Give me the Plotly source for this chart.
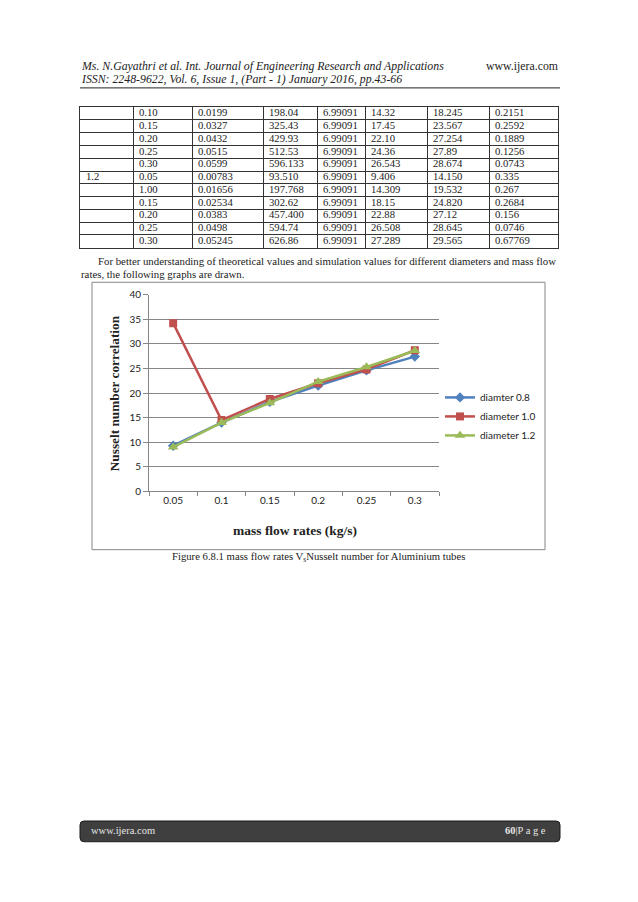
import plotly.graph_objects as go

W, H = 638, 902
def px(x):
    return x / W
def py(y):
    return 1 - y / H

# ---------------- data ----------------
categories = ["0.05", "0.1", "0.15", "0.2", "0.25", "0.3"]
d08 = [9.3, 14.0, 18.2, 21.5, 24.6, 27.4]
d10 = [34.2, 14.5, 18.8, 22.0, 24.8, 28.7]
d12 = [9.0, 14.0, 18.0, 22.3, 25.3, 28.6]
series_names = ["diamter 0.8", "diameter 1.0", "diameter 1.2"]
y_ticks = [0, 5, 10, 15, 20, 25, 30, 35, 40]

col_dia = ["", "", "", "", "", "1.2", "", "", "", "", ""]
col_m = ["0.10", "0.15", "0.20", "0.25", "0.30", "0.05", "1.00", "0.15", "0.20", "0.25", "0.30"]
col_v = ["0.0199", "0.0327", "0.0432", "0.0515", "0.0599", "0.00783", "0.01656", "0.02534", "0.0383", "0.0498", "0.05245"]
col_re = ["198.04", "325.43", "429.93", "512.53", "596.133", "93.510", "197.768", "302.62", "457.400", "594.74", "626.86"]
col_pr = ["6.99091"] * 11
col_nu = ["14.32", "17.45", "22.10", "24.36", "26.543", "9.406", "14.309", "18.15", "22.88", "26.508", "27.289"]
col_nus = ["18.245", "23.567", "27.254", "27.89", "28.674", "14.150", "19.532", "24.820", "27.12", "28.645", "29.565"]
col_err = ["0.2151", "0.2592", "0.1889", "0.1256", "0.0743", "0.335", "0.267", "0.2684", "0.156", "0.0746", "0.67769"]
table_cols = [col_dia, col_m, col_v, col_re, col_pr, col_nu, col_nus, col_err]

# ---------------- layout constants ----------------
serif = "Liberation Serif"
sans = "Lato"
col_widths = [53, 59, 71, 54, 48, 62, 62, 69]
col_edges = [0]
for w in col_widths:
    col_edges.append(col_edges[-1] + w)
tab_left = 80
row_h = 12.95
n_rows = len(col_m)
t_top = 102.5
t_bot = t_top + row_h * n_rows
cell_pad = 6

fig = go.Figure()

# ---------------- table drawn on its own axes ----------------
tx, ty, tt = [], [], []
for ci, col in enumerate(table_cols):
    for ri, v in enumerate(col):
        if v:
            tx.append(col_edges[ci] + cell_pad)
            ty.append(ri)
            tt.append(v)
fig.add_trace(go.Scatter(
    x=tx, y=ty, text=tt, mode="text", textposition="middle right",
    textfont=dict(family=serif, size=10.7, color="#222222"),
    xaxis="x2", yaxis="y2", showlegend=False, hoverinfo="skip",
))

# ---------------- chart ----------------
colors = ["#4F81BD", "#C0504D", "#9BBB59"]
symbols = ["diamond", "square", "triangle-up"]
msizes = [8, 8, 9.5]
for name, vals, c, s, ms in zip(series_names, [d08, d10, d12], colors, symbols, msizes):
    fig.add_trace(go.Scatter(
        x=categories, y=vals, name=name, mode="lines+markers",
        line=dict(color=c, width=2.5),
        marker=dict(symbol=s, size=ms, color=c),
    ))

fig.update_layout(
    width=W, height=H, margin=dict(l=0, r=0, t=0, b=0),
    paper_bgcolor="white", plot_bgcolor="rgba(0,0,0,0)",
    showlegend=True,
    legend=dict(x=px(440), y=py(382), xanchor="left", yanchor="top",
                font=dict(family=sans, size=10, color="#222222"),
                bgcolor="rgba(0,0,0,0)", itemwidth=30, tracegroupgap=0),
    xaxis=dict(domain=[px(149), px(439)], type="category", range=[-0.5, 5.5],
               showgrid=False, showline=True, linecolor="#868686", linewidth=1,
               ticks="outside", tickson="boundaries", ticklen=4, tickcolor="#868686",
               tickfont=dict(family=sans, size=10, color="#222222"), zeroline=False),
    yaxis=dict(domain=[py(492), py(292.5)], range=[0, 40], tickvals=y_ticks,
               showgrid=True, gridcolor="#868686", gridwidth=1,
               showline=True, linecolor="#868686", linewidth=1,
               ticks="outside", ticklen=5, tickcolor="#868686",
               tickfont=dict(family=sans, size=10, color="#222222"), zeroline=False),
    xaxis2=dict(domain=[px(tab_left), px(tab_left + col_edges[-1])], range=[0, col_edges[-1]],
                anchor="y2", tickvals=col_edges[1:-1], showticklabels=False, ticks="",
                showgrid=True, gridcolor="#333333", gridwidth=1, zeroline=False,
                showline=True, mirror=True, linecolor="#333333", linewidth=1, fixedrange=True),
    yaxis2=dict(domain=[py(t_bot), py(t_top)], range=[n_rows - 0.5, -0.5],
                anchor="x2", tickvals=[i + 0.5 for i in range(n_rows - 1)],
                showticklabels=False, ticks="",
                showgrid=True, gridcolor="#333333", gridwidth=1, zeroline=False,
                showline=True, mirror=True, linecolor="#333333", linewidth=1, fixedrange=True),
)

shapes = []
# header rule
shapes.append(dict(type="line", xref="paper", yref="paper", x0=px(80), x1=px(560),
                   y0=py(83), y1=py(83), line=dict(color="#222222", width=1)))
# chart border
shapes.append(dict(type="rect", xref="paper", yref="paper", x0=px(92), x1=px(545),
                   y0=py(551), y1=py(280), line=dict(color="#868686", width=1)))
# footer bar with rounded corners
x0, x1, y0, y1, r = px(80), px(560), py(847), py(826), 4
rx, ry = r / W, r / H
path = (f"M {x0+rx},{y1} L {x1-rx},{y1} Q {x1},{y1} {x1},{y1-ry} L {x1},{y0+ry} "
        f"Q {x1},{y0} {x1-rx},{y0} L {x0+rx},{y0} Q {x0},{y0} {x0},{y0+ry} "
        f"L {x0},{y1-ry} Q {x0},{y1} {x0+rx},{y1} Z")
shapes.append(dict(type="path", xref="paper", yref="paper", path=path,
                   fillcolor="#3f3f3f", line=dict(color="#1a1a1a", width=1)))
fig.update_layout(shapes=shapes)

def ann(text, x, y, size=10.5, xanchor="left", family=serif, color="#222222", angle=0):
    return dict(text=text, x=px(x), y=py(y), xref="paper", yref="paper",
                xanchor=xanchor, yanchor="middle", showarrow=False, textangle=angle,
                font=dict(family=family, size=size, color=color))

anns = [
    ann("<i>Ms. N.Gayathri et al. Int. Journal of Engineering Research and Applications</i>", 79, 61, 11.8),
    ann("<i>ISSN: 2248-9622, Vol. 6, Issue 1, (Part - 1) January 2016, pp.43-66</i>", 79, 74, 11.8),
    ann("www.ijera.com", 560, 61, 11.8, xanchor="right"),
    ann("For better understanding of theoretical values and simulation values for different diameters and mass flow",
        96, 258.5, 10.8),
    ann("rates, the following graphs are drawn.", 79, 271.5, 10.8),
    ann("<b>Nusselt number correlation</b>", 114, 392.5, 13.3, xanchor="center", angle=-90),
    ann("<b>mass flow rates (kg/s)</b>", 294.5, 532, 13.5, xanchor="center"),
    ann("Figure 6.8.1 mass flow rates V<sub>s</sub>Nusselt number for Aluminium tubes", 318.5, 558, 10.7,
        xanchor="center"),
    ann("www.ijera.com", 89, 836, 10.5, color="#e6e6e6"),
    ann("<b>60</b>|P a g e", 548, 836, 10.5, xanchor="right", color="#e6e6e6"),
]
fig.update_layout(annotations=anns)

fig.write_html("out.html", config={"displayModeBar": False},
               post_script="document.body.style.margin='0';document.body.style.overflow='hidden';")
